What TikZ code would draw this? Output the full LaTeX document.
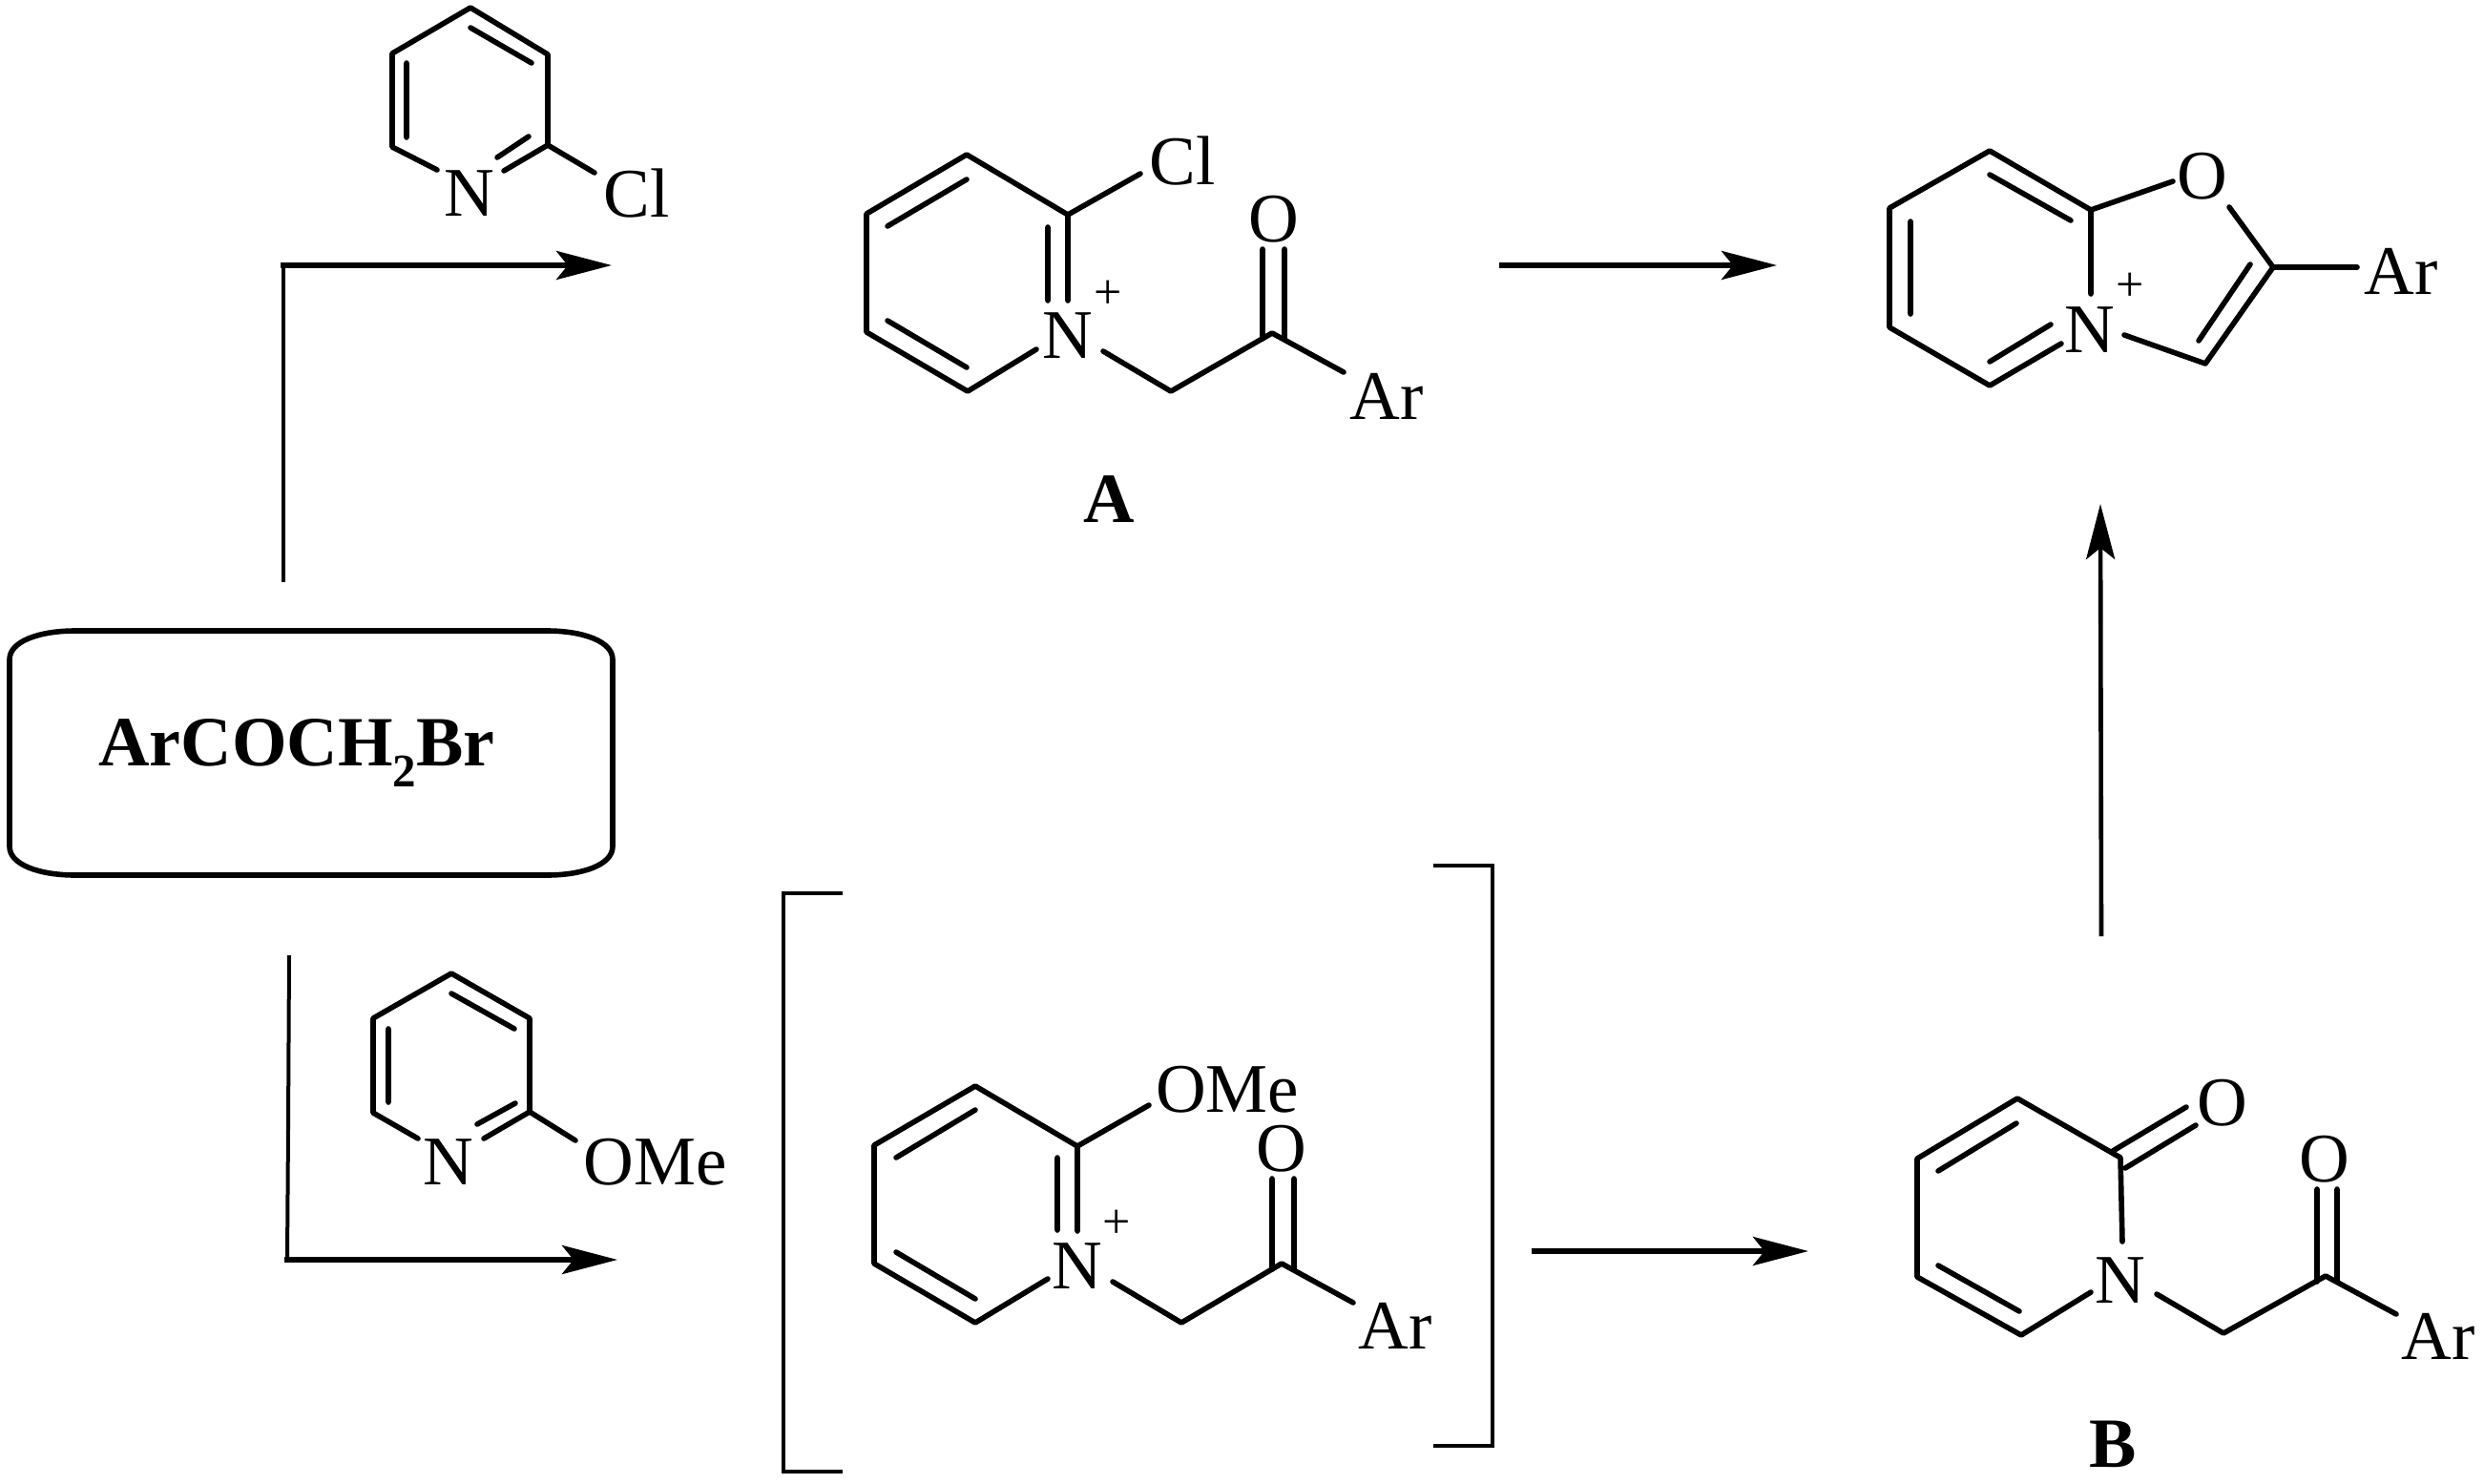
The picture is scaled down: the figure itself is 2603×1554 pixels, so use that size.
\documentclass[tikz,border=0pt]{standalone}
\usepackage{fontspec}
\setmainfont{Liberation Serif}
\usetikzlibrary{arrows.meta}
\tikzset{
  x=0.5pt,y=-0.5pt,
  bond/.style={line width=2.8pt,line cap=round,line join=round},
  rule/.style={line width=2pt,line cap=butt,line join=miter},
  hrule/.style={line width=2.8pt,line cap=butt,line join=miter},
  brack/.style={line width=2.4pt,line cap=butt,line join=miter},
  arr/.style={-{Stealth[length=29pt,width=15pt,inset=6pt]}},
  lbl/.style={font=\fontsize{36.5}{40}\selectfont,inner sep=0pt,anchor=center},
  blbl/.style={font=\fontsize{37}{40}\selectfont\bfseries,inner sep=0pt,anchor=center},
  plus/.style={font=\fontsize{26}{28}\selectfont,inner sep=0pt,anchor=center},
}
\begin{document}
\begin{tikzpicture}
\useasboundingbox (0,0) rectangle (2603,1554);
\fill[white] (0,0) rectangle (2603,1554);
% ---------- box
\coordinate (bx) at (10,691);
\draw[bond] (bx) .. controls (10,672) and (41,661) .. (79,661)
  -- (573,661) .. controls (611,661) and (642,672) .. (642,691)
  -- (642,887) .. controls (642,906) and (611,917) .. (573,917)
  -- (79,917) .. controls (41,917) and (10,906) .. (10,887) -- cycle;
\node[blbl,anchor=base] (start) at (311,802) {ArCOCH\raisebox{-11pt}{\fontsize{24.5}{26}\selectfont 2}Br};
% ---------- 2-chloropyridine
\coordinate (p1) at (493,8); \coordinate (p2) at (574,57); \coordinate (p3) at (574,152);
\coordinate (p4) at (411,154); \coordinate (p5) at (411,56);
\coordinate (p6) at (458,178); \coordinate (p7) at (528,179); \coordinate (p8) at (623,181);
\node[lbl] (pN) at (492,203) {N};
\node[lbl] (pCl) at (667,203) {Cl};
\draw[bond] (p6) -- (p4) -- (p5) -- (p1) -- (p2) -- (p3) -- (p7);
\draw[bond] (p3) -- (p8);
\coordinate (p9) at (554,143); \coordinate (p10) at (521,165);
\coordinate (p11) at (426,66); \coordinate (p12) at (426,144);
\coordinate (p13) at (493,29); \coordinate (p14) at (557,66);
\draw[bond] (p9) -- (p10) (p11) -- (p12) (p13) -- (p14);
% ---------- 2-methoxypyridine
\coordinate (q1) at (473,1020); \coordinate (q2) at (555,1067); \coordinate (q3) at (555,1165);
\coordinate (q4) at (391,1166); \coordinate (q5) at (391,1067);
\coordinate (q6) at (438,1193); \coordinate (q7) at (507,1193); \coordinate (q8) at (603,1195);
\node[lbl] (qN) at (470,1218) {N};
\node[lbl] (qOMe) at (687,1218) {OMe};
\draw[bond] (q6) -- (q4) -- (q5) -- (q1) -- (q2) -- (q3) -- (q7);
\draw[bond] (q3) -- (q8);
\coordinate (q9) at (540,1156); \coordinate (q10) at (500,1178);
\coordinate (q11) at (407,1078); \coordinate (q12) at (407,1155);
\coordinate (q13) at (473,1041); \coordinate (q14) at (539,1078);
\draw[bond] (q9) -- (q10) (q11) -- (q12) (q13) -- (q14);
% ---------- A
\coordinate (a1) at (1013,162); \coordinate (a2) at (1119,225); \coordinate (a3) at (908,224);
\coordinate (a4) at (908,348); \coordinate (a5) at (1014,410);
\coordinate (a6) at (1086,366); \coordinate (a7) at (1119,315);
\coordinate (a8) at (1195,182); \coordinate (a9) at (1156,368); \coordinate (a10) at (1227,410);
\coordinate (a11) at (1333,349); \coordinate (a12) at (1408,390);
\node[lbl] (aN) at (1119,352) {N};
\node[plus] (aP) at (1161,309) {+};
\node[lbl] (aCl) at (1239,169) {Cl};
\node[lbl] (aO) at (1335,230) {O};
\node[lbl] (aAr) at (1453,415) {Ar};
\node[blbl] (aLab) at (1162,523) {A};
\draw[bond] (a6) -- (a5) -- (a4) -- (a3) -- (a1) -- (a2) -- (a7);
\draw[bond] (a2) -- (a8);
\draw[bond] (a9) -- (a10) -- (a11) -- (a12);
\coordinate (a13) at (1098,238); \coordinate (a14) at (1098,315);
\coordinate (a15) at (1013,188); \coordinate (a16) at (930,237);
\coordinate (a17) at (930,336); \coordinate (a18) at (1013,385);
\coordinate (a19) at (1323,261); \coordinate (a20) at (1323,355);
\coordinate (a21) at (1346,261); \coordinate (a22) at (1346,355);
\draw[bond] (a13) -- (a14) (a15) -- (a16) (a17) -- (a18) (a19) -- (a20) (a21) -- (a22);
% ---------- oxazolopyridinium
\coordinate (c1) at (2085,158); \coordinate (c2) at (2191,220); \coordinate (c3) at (1980,218);
\coordinate (c4) at (1980,343); \coordinate (c5) at (2085,404); \coordinate (c6) at (2191,308);
\coordinate (c7) at (2160,360); \coordinate (c8) at (2277,190); \coordinate (c9) at (2336,217);
\coordinate (c10) at (2382,280); \coordinate (c11) at (2470,280); \coordinate (c12) at (2311,381);
\coordinate (c13) at (2226,351);
\node[lbl] (cN) at (2190,346) {N};
\node[plus] (cP) at (2232,301) {+};
\node[lbl] (cO) at (2308,185) {O};
\node[lbl] (cAr) at (2516,284) {Ar};
\draw[bond] (c7) -- (c5) -- (c4) -- (c3) -- (c1) -- (c2) -- (c6);
\draw[bond] (c2) -- (c8);
\draw[bond] (c9) -- (c10) -- (c12) -- (c13);
\draw[bond] (c10) -- (c11);
\coordinate (c14) at (2085,183); \coordinate (c15) at (2170,231);
\coordinate (c16) at (2002,232); \coordinate (c17) at (2002,329);
\coordinate (c18) at (2085,379); \coordinate (c19) at (2149,340);
\coordinate (c20) at (2358,277); \coordinate (c21) at (2304,357);
\draw[bond] (c14) -- (c15) (c16) -- (c17) (c18) -- (c19) (c20) -- (c21);
% ---------- bracketed intermediate
\coordinate (d1) at (1022,1138); \coordinate (d2) at (1129,1201); \coordinate (d3) at (916,1200);
\coordinate (d4) at (916,1324); \coordinate (d5) at (1022,1386);
\coordinate (d6) at (1098,1340); \coordinate (d7) at (1129,1290); \coordinate (d8) at (1204,1158);
\coordinate (d9) at (1166,1343); \coordinate (d10) at (1238,1386);
\coordinate (d11) at (1343,1324); \coordinate (d12) at (1418,1365);
\node[lbl] (dN) at (1129,1327) {N};
\node[plus] (dP) at (1170,1283) {+};
\node[lbl] (dOMe) at (1286,1142) {OMe};
\node[lbl] (dO) at (1343,1204) {O};
\node[lbl] (dAr) at (1462,1389) {Ar};
\draw[bond] (d6) -- (d5) -- (d4) -- (d3) -- (d1) -- (d2) -- (d7);
\draw[bond] (d2) -- (d8);
\draw[bond] (d9) -- (d10) -- (d11) -- (d12);
\coordinate (d13) at (1108,1213); \coordinate (d14) at (1108,1289);
\coordinate (d15) at (1022,1163); \coordinate (d16) at (939,1213);
\coordinate (d17) at (939,1312); \coordinate (d18) at (1022,1361);
\coordinate (d19) at (1333,1235); \coordinate (d20) at (1333,1330);
\coordinate (d21) at (1356,1235); \coordinate (d22) at (1356,1330);
\draw[bond] (d13) -- (d14) (d15) -- (d16) (d17) -- (d18) (d19) -- (d20) (d21) -- (d22);
% brackets
\coordinate (bl1) at (883,936); \coordinate (bl2) at (821,936); \coordinate (bl3) at (821,1542); \coordinate (bl4) at (883,1542);
\coordinate (br1) at (1502,907); \coordinate (br2) at (1564,907); \coordinate (br3) at (1564,1515); \coordinate (br4) at (1502,1515);
\draw[brack] (bl1) -- (bl2) -- (bl3) -- (bl4);
\draw[brack] (br1) -- (br2) -- (br3) -- (br4);
% ---------- B
\coordinate (b1) at (2114,1151); \coordinate (b2) at (2222,1213); \coordinate (b3) at (2009,1214);
\coordinate (b4) at (2009,1338); \coordinate (b5) at (2118,1399); \coordinate (b6) at (2224,1301);
\coordinate (b7) at (2191,1354); \coordinate (b8) at (2260,1356); \coordinate (b9) at (2330,1397);
\coordinate (b10) at (2437,1337); \coordinate (b11) at (2511,1377);
\node[lbl] (bN) at (2222,1342) {N};
\node[lbl] (bO1) at (2329,1156) {O};
\node[lbl] (bO2) at (2436,1215) {O};
\node[lbl] (bAr) at (2555,1400) {Ar};
\node[blbl] (bLab) at (2214,1513) {B};
\draw[bond] (b7) -- (b5) -- (b4) -- (b3) -- (b1) -- (b2) -- (b6);
\draw[bond] (b8) -- (b9) -- (b10) -- (b11);
\coordinate (b12) at (2113,1177); \coordinate (b13) at (2031,1227);
\coordinate (b14) at (2031,1326); \coordinate (b15) at (2116,1374);
\coordinate (b16) at (2214,1206); \coordinate (b17) at (2291,1160);
\coordinate (b18) at (2227,1224); \coordinate (b19) at (2301,1179);
\coordinate (b20) at (2428,1246); \coordinate (b21) at (2428,1343);
\coordinate (b22) at (2449,1246); \coordinate (b23) at (2449,1343);
\draw[bond] (b12) -- (b13) (b14) -- (b15) (b16) -- (b17) (b18) -- (b19) (b20) -- (b21) (b22) -- (b23);
% ---------- arrows
\coordinate (r1) at (297,610); \coordinate (r2) at (297,278); \coordinate (r3) at (641,278);
\draw[rule] (r1) -- (r2);
\draw[hrule,arr,line cap=rect] (r2) -- (r3);
\coordinate (s1) at (303,1001); \coordinate (s2) at (302,1183); \coordinate (s3) at (301,1320); \coordinate (s4) at (647,1320);
\draw[rule] (s1) -- (s2) -- (s3);
\draw[hrule,arr,line cap=rect] (s3) -- (s4);
\coordinate (t1) at (1571,278); \coordinate (t2) at (1862,278);
\draw[hrule,arr] (t1) -- (t2);
\coordinate (u1) at (1605,1311); \coordinate (u2) at (1895,1311);
\draw[hrule,arr] (u1) -- (u2);
\coordinate (v1) at (2202,981); \coordinate (v2) at (2201,528);
\draw[rule,line width=2.3pt,arr] (v1) -- (v2);
\end{tikzpicture}
\end{document}
